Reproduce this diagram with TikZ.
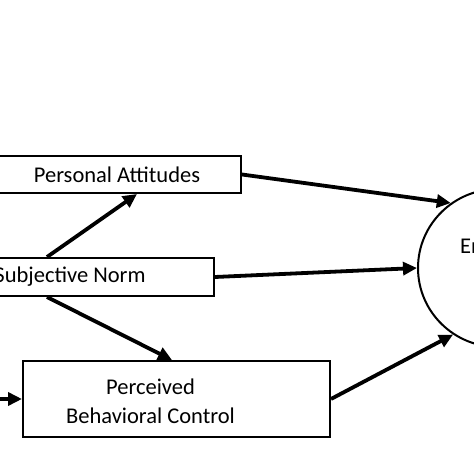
\documentclass[tikz,border=0pt]{standalone}
\usepackage{fontspec}
\setmainfont{Carlito}
\usetikzlibrary{arrows.meta,shapes.geometric,calc}
\begin{document}
\begin{tikzpicture}[x=1pt,y=1pt,
  boxstyle/.style={draw,line width=2pt,rectangle,inner sep=0pt,
    font=\fontsize{22.5}{29}\selectfont,align=center},
  arr/.style={line width=3.8pt,-{Triangle[length=14pt,width=13pt]}},
  txt/.style={font=\fontsize{22.5}{29}\selectfont,align=center}]
\useasboundingbox (0,0) rectangle (474,474);
\clip (0,0) rectangle (474,474);
\fill[white] (0,0) rectangle (474,474);
\node[boxstyle,minimum width=248pt,minimum height=37pt] (pa) at (117,299.5) {Personal Attitudes};
\node[boxstyle,minimum width=288pt,minimum height=38pt] (sn) at (70,197) {Subjective Norm};
\node[boxstyle,minimum width=307pt,minimum height=76pt,
  label={[txt,xshift=-26pt,yshift=-2.5pt]center:Perceived\\Behavioral Control}] (pbc) at (176.5,75) {};
\node[draw,ellipse,line width=2pt,minimum width=160pt,minimum height=158pt,inner sep=0pt] (ei) at (498,206) {};
\node[txt,anchor=west,inner sep=0pt] (eitext) at (460,226) {Entrepreneurial};
\coordinate (lin) at (-20,75);
\draw[arr] (pa.east) -- (ei.126);
\draw[arr] (sn.east) -- (ei.west);
\draw[arr] (pbc.east) -- (ei.236);
\draw[arr] ($(sn.north west)+(122,0)$) -- ($(pa.south west)+(145,0)$);
\draw[arr] ($(sn.south west)+(122,0)$) -- ($(pbc.north west)+(150,0)$);
\draw[arr] (lin) -- (pbc.west);
\end{tikzpicture}
\end{document}
